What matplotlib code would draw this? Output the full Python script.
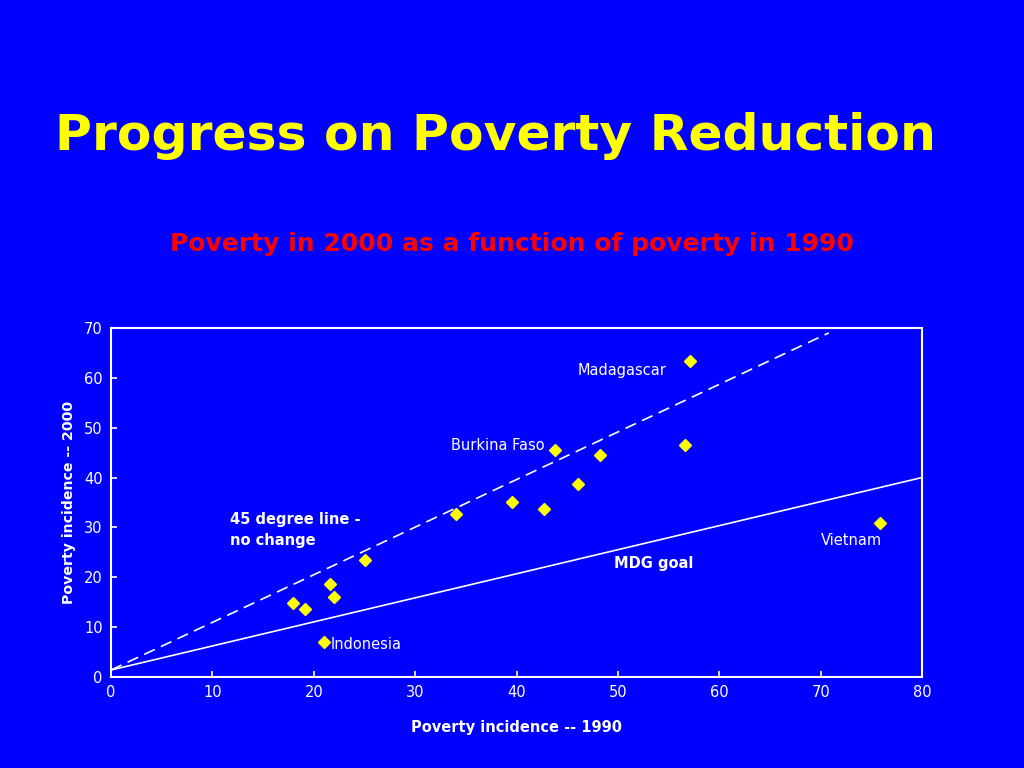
import matplotlib
matplotlib.use("Agg")
import matplotlib.pyplot as plt

# poverty incidence, 1990 vs 2000
pov_1990 = [18.0, 19.1, 21.6, 22.0, 21.0, 25.1, 34.0, 39.6, 42.7, 43.8, 46.1, 48.2, 56.6, 57.1, 75.9]
pov_2000 = [14.8, 13.6, 18.6, 16.0, 7.0, 23.4, 32.6, 35.0, 33.7, 45.6, 38.8, 44.5, 46.5, 63.4, 30.9]

# reference lines (endpoints)
line45_x = [0, 70.8]
line45_y = [1.4, 69.0]
mdg_x = [0, 80]
mdg_y = [1.4, 40.0]

# country labels
label_names = ["Madagascar", "Burkina Faso", "Vietnam", "Indonesia"]
label_x = [46.0, 33.5, 70.0, 21.7]
label_y = [61.4, 46.4, 27.4, 6.5]

BLUE = "#0000FF"
plt.rcParams["font.family"] = ["DejaVu Sans"]

fig = plt.figure(figsize=(10.24, 7.68), dpi=100, facecolor=BLUE)
fig.text(0.484, 0.823, "Progress on Poverty Reduction", color="#FFFF00",
         fontsize=36.3, fontweight="bold", ha="center", va="center")
fig.text(0.500, 0.682, "Poverty in 2000 as a function of poverty in 1990", color="#FF0000",
         fontsize=18, fontweight="bold", ha="center", va="center")

ax = fig.add_axes([0.1084, 0.1185, 0.792, 0.4545])
ax.set_facecolor(BLUE)
ax.plot(line45_x, line45_y, color="white", lw=1.2, dashes=(7, 4))
ax.plot(mdg_x, mdg_y, color="white", lw=1.2)
ax.plot(pov_1990, pov_2000, ls="none", marker="D", ms=6.5, color="#FFFF00", mec="#FFFF00")

for name, x, y in zip(label_names, label_x, label_y):
    ax.text(x, y, name, color="white", fontsize=10.5, ha="left", va="center")

ax.text(11.7, 29.5, "45 degree line -\nno change", color="white", fontsize=10.5,
        fontweight="bold", ha="left", va="center", linespacing=1.5)
ax.text(49.6, 22.7, "MDG goal", color="white", fontsize=10.5, fontweight="bold",
        ha="left", va="center")

ax.set_xlim(0, 80)
ax.set_ylim(0, 70)
ax.set_xticks(range(0, 81, 10))
ax.set_yticks(range(0, 71, 10))
for s in ax.spines.values():
    s.set_color("white")
    s.set_linewidth(1.5)
ax.tick_params(colors="white", direction="in", length=4, width=1.2, labelsize=10.5, pad=6)
ax.set_xlabel("Poverty incidence -- 1990", color="white", fontsize=10.5, fontweight="bold", labelpad=14)
ax.set_ylabel("Poverty incidence -- 2000", color="white", fontsize=10.2, fontweight="bold", labelpad=6)

fig.savefig("out.png", dpi=100, facecolor=BLUE)
